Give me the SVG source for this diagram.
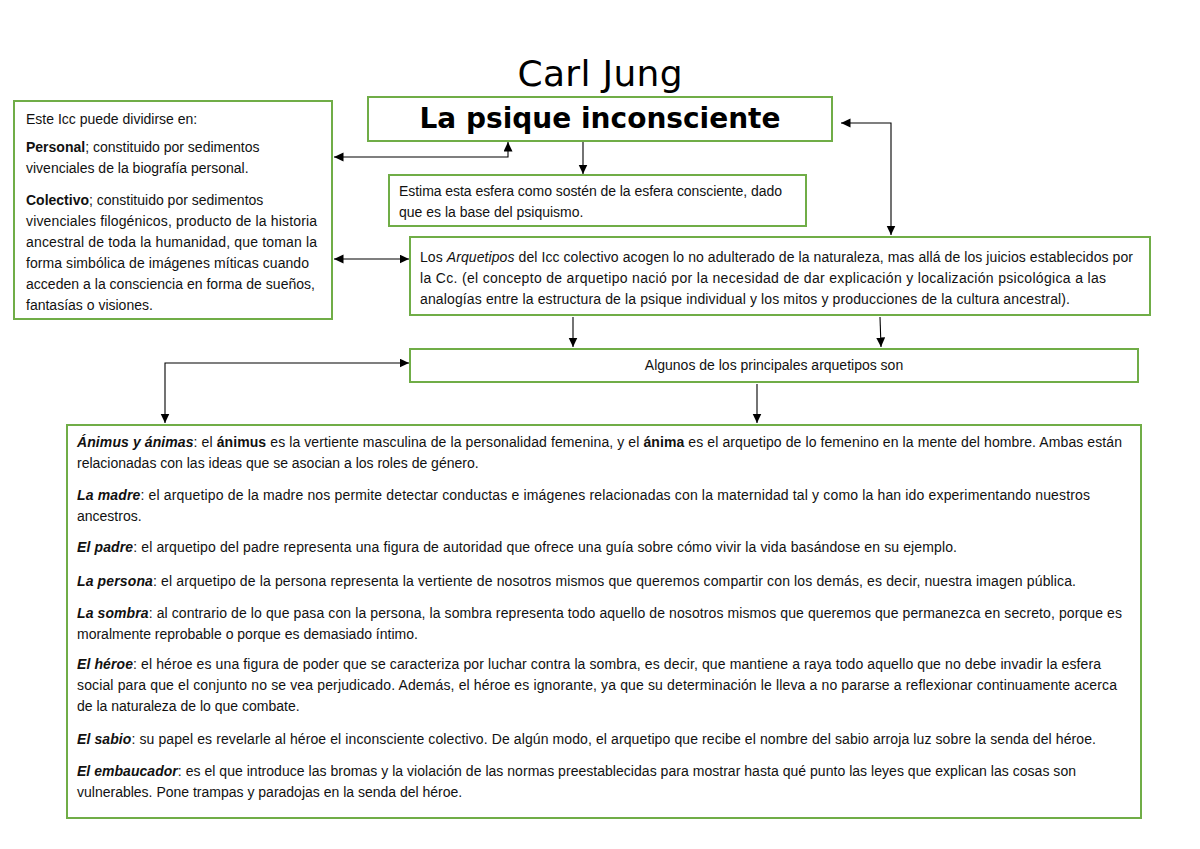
<svg xmlns="http://www.w3.org/2000/svg" width="1200" height="849" viewBox="0 0 1200 849">
<defs>
<style>
.box{fill:#fff;stroke:#70AD47;stroke-width:2}
.t{font-family:"Liberation Sans",Arial,sans-serif;font-size:14px;fill:#111}
.b{font-weight:bold}
.i{font-style:italic}
.bi{font-weight:bold;font-style:italic}
.c{fill:none;stroke:#000;stroke-width:1.1}
</style>
<marker id="ah" markerUnits="userSpaceOnUse" markerWidth="11" markerHeight="11" refX="9.5" refY="4.5" orient="auto-start-reverse">
<path d="M0,0 L9.5,4.5 L0,9 z" fill="#000"/>
</marker>
</defs>
<rect width="1200" height="849" fill="#fff"/>
<text x="600" y="86" text-anchor="middle" font-family="DejaVu Sans,sans-serif" font-size="36" textLength="165">Carl Jung</text>

<g id="title">
<rect class="box" x="368" y="97" width="464" height="44"/>
<text x="600" y="128" text-anchor="middle" font-family="DejaVu Sans,sans-serif" font-size="28" font-weight="bold">La psique inconsciente</text>
</g>

<g id="icc">
<rect class="box" x="14" y="101" width="318" height="218"/>
<text class="t" x="26" y="124">Este Icc puede dividirse en:</text>
<text class="t" x="26" y="152"><tspan class="b">Personal</tspan>; constituido por sedimentos</text>
<text class="t" x="26" y="173">vivenciales de la biografía personal.</text>
<text class="t" x="26" y="205"><tspan class="b">Colectivo</tspan>; constituido por sedimentos</text>
<text class="t" x="26" y="226" textLength="291">vivenciales filogénicos, producto de la historia</text>
<text class="t" x="26" y="247" textLength="291">ancestral de toda la humanidad, que toman la</text>
<text class="t" x="26" y="268" textLength="283">forma simbólica de imágenes míticas cuando</text>
<text class="t" x="26" y="289" textLength="289">acceden a la consciencia en forma de sueños,</text>
<text class="t" x="26" y="310">fantasías o visiones.</text>
</g>

<g id="estima">
<rect class="box" x="389" y="175" width="417" height="51"/>
<text class="t" x="399" y="196" textLength="383">Estima esta esfera como sostén de la esfera consciente, dado</text>
<text class="t" x="399" y="217">que es la base del psiquismo.</text>
</g>

<g id="arquetipos">
<rect class="box" x="410" y="237" width="740" height="78"/>
<text class="t" x="420" y="262" textLength="713">Los <tspan class="i">Arquetipos</tspan> del Icc colectivo acogen lo no adulterado de la naturaleza, mas allá de los juicios establecidos por</text>
<text class="t" x="420" y="283" textLength="686">la Cc. (el concepto de arquetipo nació por la necesidad de dar explicación y localización psicológica a las</text>
<text class="t" x="420" y="304" textLength="650">analogías entre la estructura de la psique individual y los mitos y producciones de la cultura ancestral).</text>
</g>

<g id="algunos">
<rect class="box" x="410" y="349" width="728" height="33"/>
<text class="t" x="774" y="370" text-anchor="middle">Algunos de los principales arquetipos son</text>
</g>

<g id="lista">
<rect class="box" x="67" y="425" width="1074" height="393"/>
<text class="t" x="77" y="447" textLength="1045"><tspan class="bi">Ánimus y ánimas</tspan>: el <tspan class="b">ánimus</tspan> es la vertiente masculina de la personalidad femenina, y el <tspan class="b">ánima</tspan> es el arquetipo de lo femenino en la mente del hombre. Ambas están</text>
<text class="t" x="77" y="468">relacionadas con las ideas que se asocian a los roles de género.</text>
<text class="t" x="77" y="500" textLength="1013"><tspan class="bi">La madre</tspan>: el arquetipo de la madre nos permite detectar conductas e imágenes relacionadas con la maternidad tal y como la han ido experimentando nuestros</text>
<text class="t" x="77" y="521">ancestros.</text>
<text class="t" x="77" y="552" textLength="880"><tspan class="bi">El padre</tspan>: el arquetipo del padre representa una figura de autoridad que ofrece una guía sobre cómo vivir la vida basándose en su ejemplo.</text>
<text class="t" x="77" y="586" textLength="999"><tspan class="bi">La persona</tspan>: el arquetipo de la persona representa la vertiente de nosotros mismos que queremos compartir con los demás, es decir, nuestra imagen pública.</text>
<text class="t" x="77" y="618" textLength="1045"><tspan class="bi">La sombra</tspan>: al contrario de lo que pasa con la persona, la sombra representa todo aquello de nosotros mismos que queremos que permanezca en secreto, porque es</text>
<text class="t" x="77" y="639">moralmente reprobable o porque es demasiado íntimo.</text>
<text class="t" x="77" y="669" textLength="1024"><tspan class="bi">El héroe</tspan>: el héroe es una figura de poder que se caracteriza por luchar contra la sombra, es decir, que mantiene a raya todo aquello que no debe invadir la esfera</text>
<text class="t" x="77" y="690" textLength="1040">social para que el conjunto no se vea perjudicado. Además, el héroe es ignorante, ya que su determinación le lleva a no pararse a reflexionar continuamente acerca</text>
<text class="t" x="77" y="711">de la naturaleza de lo que combate.</text>
<text class="t" x="77" y="744" textLength="1019"><tspan class="bi">El sabio</tspan>: su papel es revelarle al héroe el inconsciente colectivo. De algún modo, el arquetipo que recibe el nombre del sabio arroja luz sobre la senda del héroe.</text>
<text class="t" x="77" y="776" textLength="999"><tspan class="bi">El embaucador</tspan>: es el que introduce las bromas y la violación de las normas preestablecidas para mostrar hasta qué punto las leyes que explican las cosas son</text>
<text class="t" x="77" y="797">vulnerables. Pone trampas y paradojas en la senda del héroe.</text>
</g>

<g id="connectors">
<path class="c" d="M334,157 H508 V142" marker-start="url(#ah)" marker-end="url(#ah)"/>
<path class="c" d="M583,142 V174" marker-end="url(#ah)"/>
<path class="c" d="M841,123 H891 V235" marker-start="url(#ah)" marker-end="url(#ah)"/>
<path class="c" d="M334,259 H409" marker-start="url(#ah)" marker-end="url(#ah)"/>
<path class="c" d="M573,317 V347" marker-end="url(#ah)"/>
<path class="c" d="M880,317 L881,347" marker-end="url(#ah)"/>
<path class="c" d="M409,363 H165 V423" marker-start="url(#ah)" marker-end="url(#ah)"/>
<path class="c" d="M757,384 V423" marker-end="url(#ah)"/>
</g>
</svg>
